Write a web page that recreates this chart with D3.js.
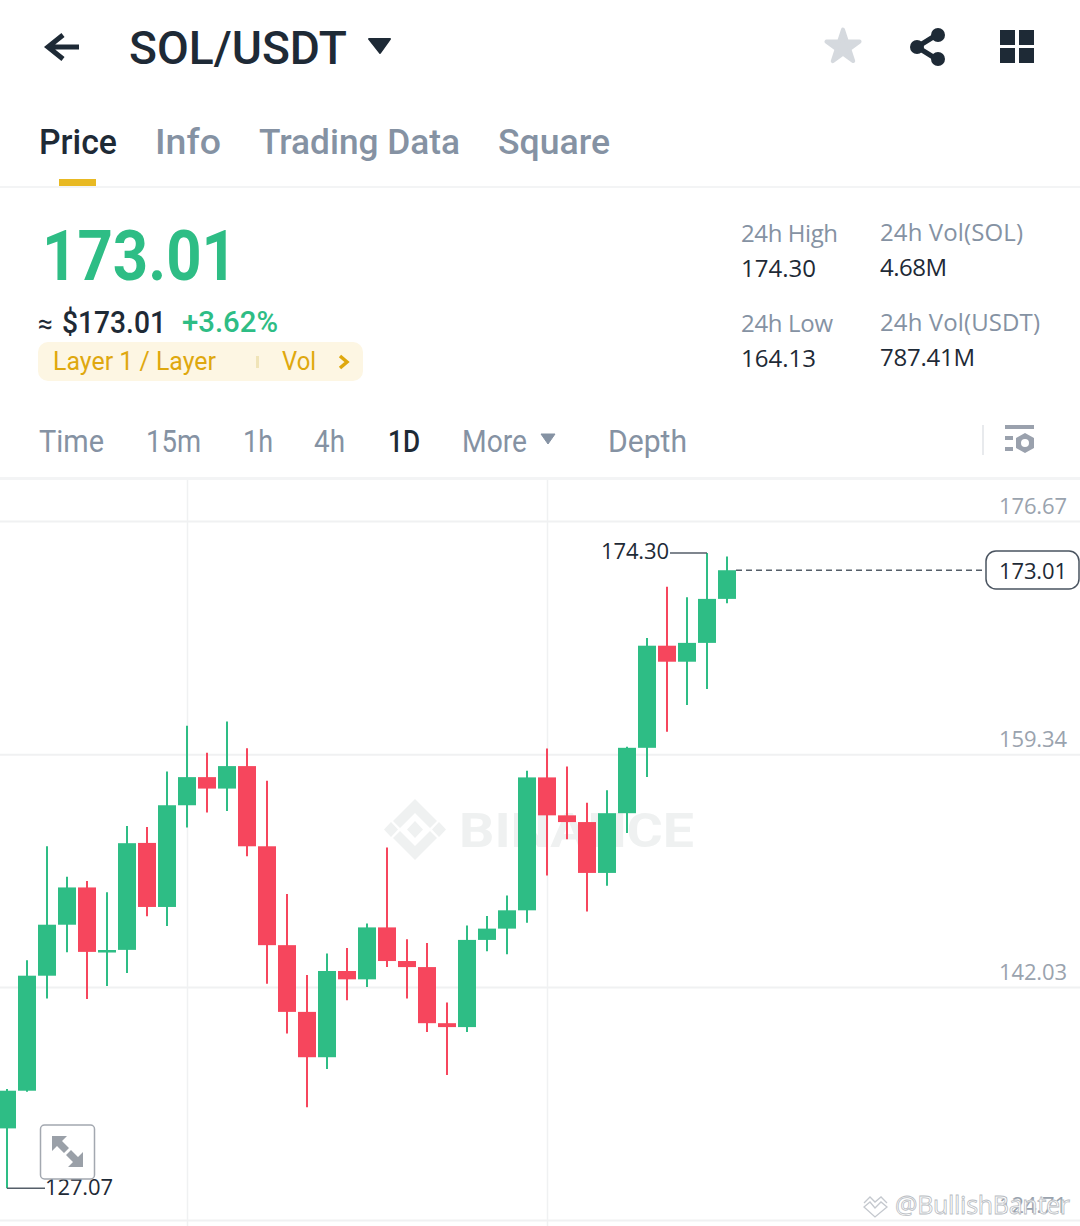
<!DOCTYPE html>
<html>
<head>
<meta charset="utf-8">
<script src="https://cdn.jsdelivr.net/npm/d3@7"></script>
<style>
body{margin:0;background:#fff;overflow:hidden}
svg{display:block}
</style>
</head>
<body>
<svg id="chart" width="1080" height="1226"></svg>
<script>
// oldest candle first
let opens = [131.52,134.32,142.87,146.66,149.43,144.68,144.79,152.74,147.98,155.54,157.63,156.78,158.45,152.49,145.14,140.18,136.81,143.22,142.60,146.46,143.96,143.51,139.34,139.05,145.53,146.37,147.73,157.61,154.79,154.29,150.51,154.95,159.81,167.40,166.21,167.61,170.88];
let closes = [134.32,142.87,146.66,149.43,144.64,144.78,152.72,147.98,155.54,157.63,156.78,158.45,152.49,145.14,140.18,136.81,143.22,142.60,146.46,143.96,143.51,139.34,139.05,145.53,146.37,147.73,157.61,154.79,154.29,150.51,154.95,159.81,167.40,166.21,167.61,170.88,173.01];
let highs = [134.45,144.02,152.49,150.22,149.91,149.08,153.99,153.92,158.05,161.45,159.45,161.77,159.78,157.36,148.95,142.92,144.52,144.92,146.75,152.40,145.58,145.31,140.88,146.61,147.31,148.84,158.11,159.75,158.43,155.72,156.65,159.89,167.98,171.78,171.01,174.30,174.04];
let lows = [127.07,134.24,141.17,144.61,141.13,142.10,143.07,147.28,146.56,153.89,155.01,155.11,151.75,142.27,138.58,133.09,135.94,141.05,142.03,143.51,141.17,138.68,135.49,138.68,144.68,144.46,146.80,150.31,153.01,147.65,149.56,153.47,157.64,161.00,162.99,164.19,170.56];

let priceTicks = [176.67,159.34,142.03,124.71];
let timeGrid = [9,27];
let lastPrice = 173.01;
let highPrice = 174.30;
let lowPrice = 127.07;

let navTabs = ['Price','Info','Trading Data','Square'];
let intervals = ['Time','15m','1h','4h','1D','More','Depth'];

let green = '#2ebd85', red = '#f6465d', dark = '#1e2a36', gray = '#8592a3';

let svg = d3.select('#chart');
let x = d3.scaleLinear().domain([0,36]).range([7,727]);
let y = d3.scaleLinear().domain([176.67,124.71]).range([521,1220]);

// width is the measured width in the picture, the font never quite matches
function label(tx,ty,str,size,color,opts){
    opts = opts || {};
    let t = svg.append('text').attr('x',tx).attr('y',ty).text(str)
        .attr('font-family',opts.font || 'Roboto')
        .attr('font-size',size)
        .attr('font-weight',opts.weight || 400)
        .attr('fill',color);
    if(opts.width){
        t.attr('textLength',opts.width).attr('lengthAdjust',opts.font ? 'spacing' : 'spacingAndGlyphs');
    }
    if(opts.anchor){ t.attr('text-anchor',opts.anchor); }
    return t;
}

// header
svg.append('path').attr('d','M79 47H49M63 35L48 47L63 59').attr('fill','none').attr('stroke',dark).attr('stroke-width',5);
label(129,64,'SOL/USDT',46,dark,{weight:500,width:218});
svg.append('path').attr('d','M369 39H390L380 53Z').attr('fill',dark).attr('stroke',dark).attr('stroke-width',2).attr('stroke-linejoin','round');
svg.append('path').attr('transform','translate(843,47)')
    .attr('d',d3.symbol().type(d3.symbolStar).size(340)).attr('fill','#d5d9de').attr('stroke','#d5d9de').attr('stroke-width',4).attr('stroke-linejoin','round');
svg.append('path').attr('d','M938 34L917 47L938 60').attr('fill','none').attr('stroke',dark).attr('stroke-width',5);
[[917,47],[938,35],[938,59]].forEach(c=>{
    svg.append('circle').attr('cx',c[0]).attr('cy',c[1]).attr('r',7).attr('fill',dark);
});
[[1000,30,15,15],[1019,30,15,15],[1000,48,15,15],[1019,48,15,15]].forEach(r=>{
    svg.append('rect').attr('x',r[0]).attr('y',r[1]).attr('width',r[2]).attr('height',r[3]).attr('fill',dark);
});

// tabs
let navX = [39,155,259,498], navW = [78,66,201,112];
navTabs.forEach((d,i)=>{
    label(navX[i],154,d,35,i==0 ? dark : gray,{weight:500,width:navW[i]});
});
svg.append('rect').attr('x',59).attr('y',179).attr('width',37).attr('height',8).attr('fill','#e8b923');
svg.append('rect').attr('x',0).attr('y',186).attr('width',1080).attr('height',2).attr('fill','#f3f4f5');

// price block
label(42,280,'173.01',71,green,{weight:700,width:195});
label(38,333,'≈',27,dark,{width:15});
label(62,333,'$173.01',31,dark,{weight:500,width:104});
label(182,332,'+3.62%',30,green,{weight:500,width:96});
svg.append('rect').attr('x',38).attr('y',342).attr('width',325).attr('height',39).attr('rx',10).attr('fill','#fdf6e3');
label(53,370,'Layer 1 / Layer',26,'#dfa80e',{width:163});
svg.append('rect').attr('x',256).attr('y',356).attr('width',3).attr('height',12).attr('fill','#f0e4b8');
label(282,370,'Vol',26,'#dfa80e',{width:34});
svg.append('path').attr('d','M340 356L347 362L340 368').attr('fill','none').attr('stroke','#dfa80e').attr('stroke-width',3.5);

// 24h stats
let sf = 'Open Sans';
label(741,242,'24h High',24,gray,{font:sf,width:97});
label(741,277,'174.30',24,dark,{font:sf,width:75});
label(880,241,'24h Vol(SOL)',24,gray,{font:sf,width:143});
label(880,276,'4.68M',24,dark,{font:sf,width:67});
label(741,332,'24h Low',24,gray,{font:sf,width:92});
label(741,367,'164.13',24,dark,{font:sf,width:75});
label(880,331,'24h Vol(USDT)',24,gray,{font:sf,width:160});
label(880,366,'787.41M',24,dark,{font:sf,width:95});

// interval row
let intX = [39,146,243,314,388,462,608], intW = [65,55,30,31,32,65,79];
intervals.forEach((d,i)=>{
    label(intX[i],452,d,31,d=='1D' ? dark : gray,{weight:d=='1D' ? 500 : 400,width:intW[i]});
});
svg.append('path').attr('d','M541 434H555L548 444Z').attr('fill',gray).attr('stroke',gray).attr('stroke-linejoin','round');
svg.append('rect').attr('x',982).attr('y',425).attr('width',2).attr('height',30).attr('fill','#e8eaed');
svg.append('g').attr('fill','#9aa1ad').call(g=>{
    g.append('rect').attr('x',1005).attr('y',425).attr('width',29).attr('height',4);
    g.append('rect').attr('x',1005).attr('y',436).attr('width',8).attr('height',4);
    g.append('rect').attr('x',1005).attr('y',447).attr('width',8).attr('height',4);
    g.append('path').attr('fill-rule','evenodd').attr('d','M1025 433L1034 438V448L1025 453L1016 448V438ZM1025 439A4 4 0 1 0 1025 447A4 4 0 1 0 1025 439Z');
});
svg.append('rect').attr('x',0).attr('y',477).attr('width',1080).attr('height',3).attr('fill','#f3f4f5');

// grid, price axis on the right
let yAxis = d3.axisRight(y).tickValues(priceTicks).tickSize(1080).tickFormat(d3.format('.2f'));
let yG = svg.append('g').call(yAxis);
yG.select('.domain').remove();
yG.selectAll('line').attr('stroke','#f0f1f2').attr('stroke-width',2);
yG.selectAll('text').attr('x',1067).attr('dy',-8).attr('text-anchor','end')
    .attr('font-family',sf).attr('font-size',22).attr('fill','#9aa3ae')
    .attr('textLength',68);

let xAxis = d3.axisTop(x).tickValues(timeGrid).tickSize(746).tickFormat('');
let xG = svg.append('g').attr('transform','translate(0,1226)').call(xAxis);
xG.select('.domain').remove();
xG.selectAll('line').attr('stroke','#f0f1f2').attr('stroke-width',1.5);

// watermark
let wm = svg.append('g').attr('fill','#eff1f1');
wm.append('path').attr('d','M415 799L437 821L430 828L415 813L400 828L393 821Z');
wm.append('path').attr('d','M415 860L437 838L430 831L415 846L400 831L393 838Z');
wm.append('path').attr('d','M415 821L423 829.5L415 838L407 829.5Z');
wm.append('path').attr('d','M391 822L398 829.5L391 837L384 829.5Z');
wm.append('path').attr('d','M439 822L446 829.5L439 837L432 829.5Z');
label(459,847,'BINANCE',48,'#eff1f1',{weight:700,width:235});

// candles
let candles = opens.map((o,i)=>({i:i,o:o,c:closes[i],h:highs[i],l:lows[i]}));
let colorOf = d=>d.c>=d.o ? green : red;
svg.append('g').selectAll('line').data(candles).join('line')
    .attr('x1',d=>x(d.i)).attr('x2',d=>x(d.i))
    .attr('y1',d=>y(d.h)).attr('y2',d=>y(d.l))
    .attr('stroke',colorOf).attr('stroke-width',2);
svg.append('g').selectAll('rect').data(candles).join('rect')
    .attr('x',d=>x(d.i)-9).attr('width',18)
    .attr('y',d=>y(Math.max(d.o,d.c)))
    .attr('height',d=>Math.max(2.5,Math.abs(y(d.o)-y(d.c))))
    .attr('fill',colorOf);

// high, low and last price callouts
svg.append('path').attr('d',`M670 ${y(highPrice)}H${x(35)}`).attr('fill','none').attr('stroke','#555e69').attr('stroke-width',1.5);
label(601,559,'174.30',22,dark,{font:sf,width:68});
svg.append('path').attr('d',`M${x(0)} ${y(lowPrice)}H45`).attr('fill','none').attr('stroke','#555e69').attr('stroke-width',1.5);
label(45,1195,'127.07',22,dark,{font:sf,width:68});
svg.append('line').attr('x1',736).attr('x2',985).attr('y1',y(lastPrice)).attr('y2',y(lastPrice))
    .attr('stroke','#555e69').attr('stroke-width',1.5).attr('stroke-dasharray','6 4');
svg.append('rect').attr('x',986).attr('y',551).attr('width',93).attr('height',38).attr('rx',10)
    .attr('fill','#fff').attr('stroke','#4a5460').attr('stroke-width',1.5);
label(999,579,'173.01',22,dark,{font:sf,width:68});

// expand button
svg.append('rect').attr('x',40.5).attr('y',1125).attr('width',54).attr('height',54).attr('rx',4)
    .attr('fill','#fff').attr('fill-opacity',0.9).attr('stroke','#a3a8b0').attr('stroke-width',1.5);
svg.append('path').attr('d','M52 1136H67L62 1141L69 1148L64 1153L57 1146L52 1151ZM83 1167H68L73 1162L66 1155L71 1150L78 1157L83 1152Z').attr('fill','#9aa0a8');

// bottom right platform mark
let bm = svg.append('g').attr('fill','none').attr('stroke','#c4c8ce').attr('stroke-width',1.3);
bm.append('path').attr('d','M864 1203L870 1197L875 1202L881 1197L887 1203');
bm.append('path').attr('d','M864 1207L875 1217L887 1207L881 1202L875 1208L870 1202Z');
label(895,1214,'@BullishBanter',25,'#fff',{font:sf,width:175}).attr('stroke','#b8bcc2').attr('stroke-width',0.8);
</script>
</body>
</html>
